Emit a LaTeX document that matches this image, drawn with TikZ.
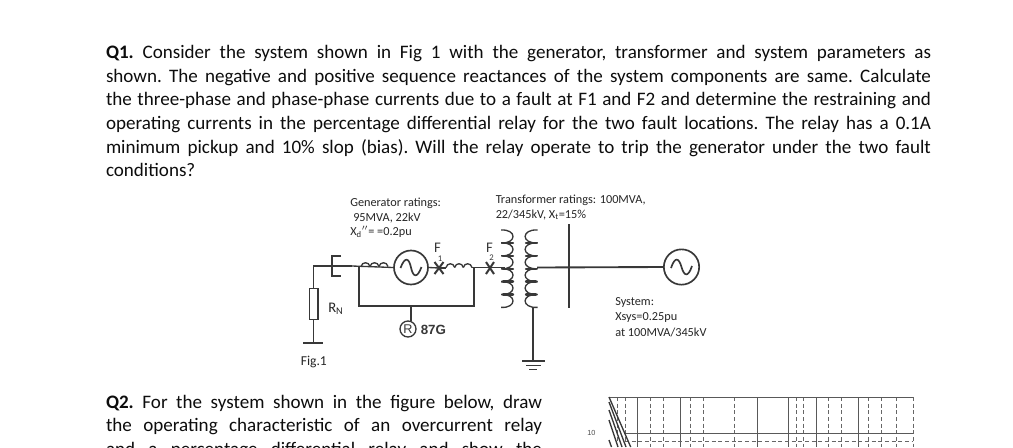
\documentclass[tikz,border=0pt]{standalone}
\usepackage{fontspec}
\setmainfont{Carlito}
\newfontfamily\relayfont{Liberation Sans}
\definecolor{ink}{gray}{0.22}
\definecolor{txt}{gray}{0.05}
\definecolor{lbl}{gray}{0.15}
\tikzset{
  wire/.style={draw=ink,line width=1pt},
  thin wire/.style={draw=ink,line width=0.8pt},
  coilw/.style={draw=ink,line width=1pt},
  srcnode/.style={circle,draw=ink,line width=1.25pt,minimum size=26pt,inner sep=0pt},
  body/.style={anchor=north west,inner sep=0pt,outer sep=0pt,text=txt,align=justify,font=\fontsize{14.3pt}{17.77pt}\selectfont\frenchspacing},
  small/.style={anchor=west,inner sep=0pt,text=lbl,font=\fontsize{9.2pt}{11pt}\selectfont},
  flabel/.style={inner sep=0pt,text=ink,font=\fontsize{11pt}{11pt}\selectfont},
  gridsolid/.style={draw=black!65,line width=0.6pt},
  griddash/.style={draw=black!60,line width=0.55pt,densely dashed},
  faultx/.style={draw=ink,line width=1.5pt}
}
\newcommand{\bumps}[3]{% x0, x1, y
  \foreach \k in {0,1,2}{
    \pgfmathsetmacro{\a}{#1+\k*(#2-#1)/3}
    \pgfmathsetmacro{\b}{#1+(\k+1)*(#2-#1)/3}
    \draw[wire] (\a,#3) .. controls (\a+1,#3-5) and (\b-1,#3-5) .. (\b,#3);
  }
}
\begin{document}
\begin{tikzpicture}[x=0.75pt,y=-0.75pt]
\useasboundingbox (0,0) rectangle (1013,447);
\clip (0,0) rectangle (1013,447);
\fill[white] (0,0) rectangle (1013,447);

% text
\node[body,text width=618.75pt] (q1) at (106,45.2) {\textbf{Q1.} Consider the system shown in Fig 1 with the generator, transformer and system parameters as\linebreak
shown. The negative and positive sequence reactances of the system components are same. Calculate\linebreak
the three-phase and phase-phase currents due to a fault at F1 and F2 and determine the restraining and\linebreak
operating currents in the percentage differential relay for the two fault locations. The relay has a 0.1A\linebreak
minimum pickup and 10\% slop (bias). Will the relay operate to trip the generator under the two fault\linebreak
conditions?\par};
\node[body,text width=327pt] (q2) at (106,395) {\textbf{Q2.} For the system shown in the figure below, draw\linebreak
the operating characteristic of an overcurrent relay\linebreak
and a percentage differential relay and show the\linebreak
\mbox{}\par};

% labels
\node[small] (g1) at (350,203) {Generator ratings:};
\node[small] (g2) at (353,218) {95MVA, 22kV};
\node[small] (g3) at (350,232) {X\textsubscript{d}$''$= =0.2pu};
\node[small] (t1) at (495.5,200) {Transformer ratings: 100MVA,};
\node[small] (t2) at (495.5,215) {22/345kV, X\textsubscript{t}=15\%};
\node[small] (s1) at (615,303) {System:};
\node[small] (s2) at (615,318) {Xsys=0.25pu};
\node[small] (s3) at (615,332) {at 100MVA/345kV};
\node[small,font=\fontsize{10.2pt}{11pt}\selectfont] (fig) at (300.5,362) {Fig.1};
\node[small,font=\fontsize{11pt}{12pt}\selectfont] (rn) at (328,309) {R\textsubscript{N}};

% sources
\node[srcnode,minimum size=25.5pt] (gen) at (411,267.5) {};
\node[srcnode,minimum size=26.5pt] (sys) at (681.5,267) {};
\draw[wire,line width=1.25pt] (400.5,268) .. controls (405,256) and (409,258) .. (411,267.5) .. controls (413,277) and (417,279) .. (421.5,267);
\draw[wire,line width=1.25pt] (671,268) .. controls (675,256) and (679,258) .. (681.5,267) .. controls (684,276) and (688,278) .. (692,266);

% neutral branch
\coordinate (ctl) at (352,266);
\coordinate (nc) at (313.5,266);
\node[draw=ink,line width=1pt,minimum width=6.5pt,minimum height=23pt,inner sep=0pt] (rbox) at (313.5,304) {};
\coordinate (gnd1) at (313.5,343);
\draw[wire] (ctl) -- (nc) -- (rbox.north);
\draw[wire] (rbox.south) -- (gnd1);
\draw[wire,line width=1.2pt] (303,343) -- (323,343);
\draw[wire] (341,256) -- (332,256) -- (332,276) -- (341,276);

% generator line
\bumps{361}{388}{266.5}
\draw[wire] (ctl) -- (gen.west);
\coordinate (j1) at (359,266.5);
\coordinate (j2) at (474,267);
\coordinate (f1) at (439,268);
\coordinate (f2) at (490,267.5);
\coordinate (pri) at (505,267.5);
\draw[wire] (gen.east) -- (f1);
\draw[wire] (f1) -- (446,268);
\bumps{446}{472}{267.5}
\draw[wire] (472,267.5) -- (pri);

% relay loop
\coordinate (lb) at (359,306);
\coordinate (rb) at (474,306);
\coordinate (stem) at (411,306);
\node[circle,draw=ink,line width=1pt,minimum size=12pt,inner sep=0pt,text=ink,font=\relayfont\fontsize{9.5pt}{10pt}\selectfont] (relay) at (408,329) {R};
\node[anchor=west,inner sep=0pt,text=ink,font=\relayfont\bfseries\fontsize{10pt}{10pt}\selectfont] (g87) at (420.5,330) {87G};
\draw[thin wire] (j1) -- (lb) -- (rb) -- (j2);
\draw[thin wire] (stem) -- (411,321);

% faults
\draw[faultx] (434.5,262) -- (443.5,274);
\draw[faultx] (443.5,262) -- (434.5,274);
\draw[faultx] (486,262) -- (494,274);
\draw[faultx] (494,262) -- (486,274);
\node[flabel] (fa) at (437.5,248) {F};
\node[flabel,font=\fontsize{6.5pt}{7pt}\selectfont] (fb) at (440,258.5) {1};
\node[flabel] (fc) at (489.5,247.5) {F};
\node[flabel,font=\fontsize{6.5pt}{7pt}\selectfont] (fd) at (491.5,258) {2};

% transformer
\foreach \i in {0,...,5}{
  \pgfmathsetmacro{\ya}{230+\i*12.9}
  \pgfmathsetmacro{\yb}{230+(\i+1)*12.9}
  \draw[coilw] (501,\ya) .. controls (517,\ya-1) and (517,\yb+1) .. (501,\yb);
  \draw[coilw] (537.5,\ya) .. controls (521,\ya-1) and (521,\yb+1) .. (537.5,\yb);
}
\foreach \i in {1,...,5}{
  \pgfmathsetmacro{\ya}{230+\i*12.9}
  \draw[draw=ink,line width=1.8pt,line cap=round] (503,\ya) -- (513,\ya);
  \draw[draw=ink,line width=1.8pt,line cap=round] (526,\ya) -- (536,\ya);
}
\coordinate (sec) at (537,267.5);
\coordinate (secb) at (533,307);
\coordinate (gnd2) at (533,361);
\draw[wire] (secb) -- (gnd2);
\draw[wire,line width=1.2pt] (522,361) -- (545,361);
\draw[wire,line width=1.2pt] (526,365.5) -- (541,365.5);
\draw[wire,line width=1.2pt] (529,369.5) -- (537,369.5);

% bus and system line
\coordinate (bust) at (569,224);
\coordinate (busb) at (569,308);
\draw[draw=ink,line width=2.2pt] (bust) -- (busb);
\draw[wire,line width=1.4pt] (sec) -- (sys.west);

% lower chart
\foreach \x in {637.5,680,757,788,816,858} \draw[gridsolid] (\x,397) -- (\x,447);
\foreach \x in {617.7,625.7,650,663,690.7,703,734,796,803,828,841,868,881,896,913} \draw[griddash] (\x,397) -- (\x,447);
\draw[gridsolid] (609,397) -- (913,397);
\draw[gridsolid] (625,433) -- (913,433);
\draw[griddash] (625,441.5) -- (913,441.5);
\draw[draw=ink,line width=1pt] (609,397) -- (630.7,447);
\draw[draw=ink,line width=1pt] (609,402) -- (626,447);
\draw[draw=ink,line width=1pt] (609,410) -- (622,447);
\draw[draw=ink,line width=1pt] (609,420) -- (618,447);
\draw[draw=ink,line width=1pt] (609,440) -- (611.5,447);
\node[small,text=black!70,font=\relayfont\fontsize{5.5pt}{6pt}\selectfont] (ten) at (587,433) {10};
\end{tikzpicture}
\end{document}
